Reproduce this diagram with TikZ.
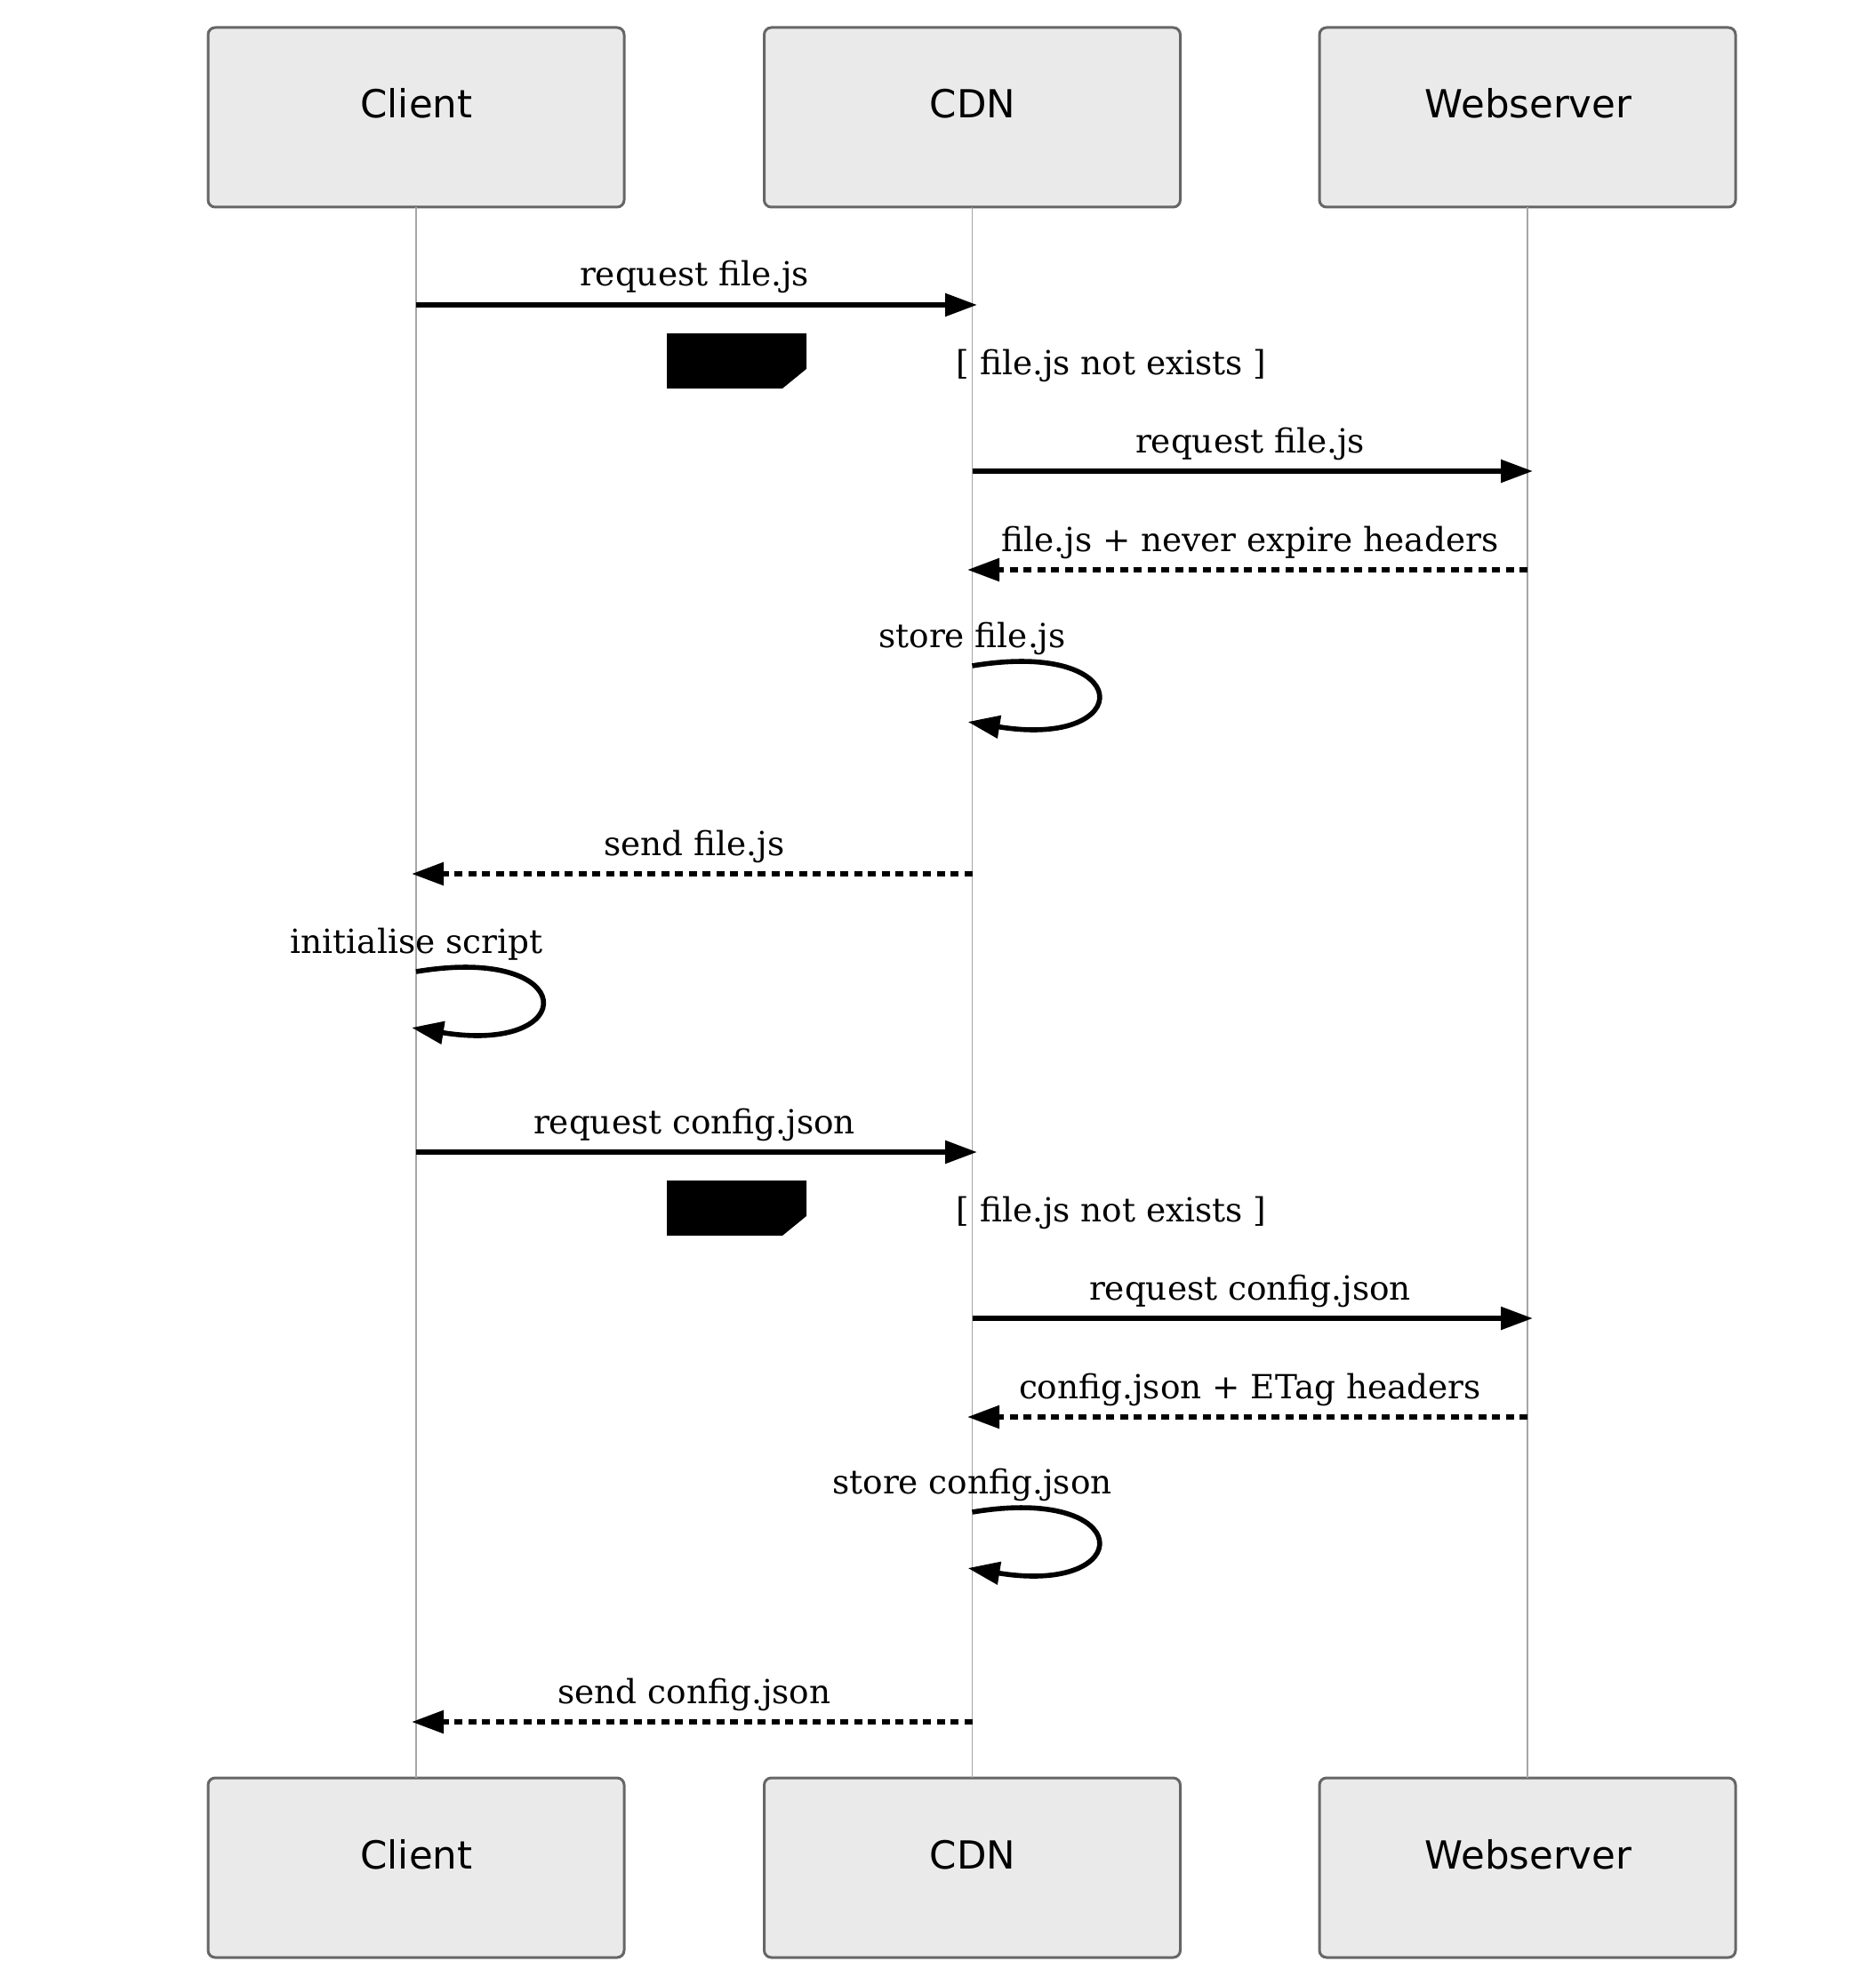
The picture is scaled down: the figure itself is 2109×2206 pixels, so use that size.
\documentclass[tikz,border=0pt]{standalone}
\usepackage{fontspec}
\setmainfont{DejaVu Serif}
\newfontfamily\actorfont{DejaVu Sans}
\usetikzlibrary{arrows.meta}
\definecolor{actfill}{HTML}{EAEAEA}
\definecolor{actline}{HTML}{666666}
\definecolor{lifecol}{HTML}{A6A6A6}
\begin{document}
\begin{tikzpicture}[x=1bp,y=-1bp,
  actor/.style={draw=actline, line width=3bp, fill=actfill, rounded corners=8bp,
    minimum width=468bp, minimum height=202bp, inner sep=0pt, outer sep=0pt},
  actlabel/.style={font=\actorfont\fontsize{43.5bp}{52bp}\selectfont, anchor=base, inner sep=0pt},
  msglabel/.style={font=\fontsize{37.4bp}{44bp}\selectfont, anchor=base, inner sep=0pt},
  msg/.style={line width=5.6bp, -{Triangle[length=36bp,width=25bp]}},
  reply/.style={msg, dash pattern=on 9bp off 6.5bp},
  life/.style={draw=lifecol, line width=1.5bp},
  notetag/.style={fill=black}
]
\useasboundingbox (0,0) rectangle (2109,2206);

% actors
\node[actor] (cTop) at (468,132) {};
\node[actor] (dTop) at (1093.5,132) {};
\node[actor] (wTop) at (1718,132) {};
\node[actor] (cBot) at (468,2101) {};
\node[actor] (dBot) at (1093.5,2101) {};
\node[actor] (wBot) at (1718,2101) {};
\node[actlabel] (cTopL) at (468.5,133) {Client};
\node[actlabel] (dTopL) at (1094,133) {CDN};
\node[actlabel] (wTopL) at (1719,133) {Webserver};
\node[actlabel] (cBotL) at (468.5,2102) {Client};
\node[actlabel] (dBotL) at (1094,2102) {CDN};
\node[actlabel] (wBotL) at (1719,2102) {Webserver};

% lifelines
\draw[life] (cTop.south) -- (cBot.north);
\draw[life] (dTop.south) -- (dBot.north);
\draw[life] (wTop.south) -- (wBot.north);

% ---------- block 1 ----------
\coordinate (a1s) at (468,343);  \coordinate (a1e) at (1099,343);
\draw[msg] (a1s) -- (a1e);
\node[msglabel] (a1l) at (781,322) {request file.js};

\fill[notetag] (750,375) -- (907,375) -- (907,415) -- (880,437) -- (750,437) -- cycle;
\node[msglabel] (n1l) at (1250,421) {[ file.js not exists ]};

\coordinate (a2s) at (1093.5,530); \coordinate (a2e) at (1724,530);
\draw[msg] (a2s) -- (a2e);
\node[msglabel] (a2l) at (1406,509) {request file.js};

\coordinate (a3s) at (1718,641); \coordinate (a3e) at (1088,641);
\draw[reply] (a3s) -- (a3e);
\node[msglabel] (a3l) at (1406,620) {file.js + never expire headers};

\coordinate (s1s) at (1093.5,749); \coordinate (s1e) at (1088.5,812);
\draw[msg] (s1s) .. controls +(186,-31) and +(191,31) .. (s1e);
\node[msglabel] (s1l) at (1093.5,728) {store file.js};

\coordinate (a4s) at (1093.5,983); \coordinate (a4e) at (463,983);
\draw[reply] (a4s) -- (a4e);
\node[msglabel] (a4l) at (781,962) {send file.js};

\coordinate (s2s) at (468,1093); \coordinate (s2e) at (463,1156);
\draw[msg] (s2s) .. controls +(186,-31) and +(191,31) .. (s2e);
\node[msglabel] (s2l) at (468.5,1072) {initialise script};

% ---------- block 2 ----------
\coordinate (b1s) at (468,1296);  \coordinate (b1e) at (1099,1296);
\draw[msg] (b1s) -- (b1e);
\node[msglabel] (b1l) at (781,1275) {request config.json};

\fill[notetag] (750,1328) -- (907,1328) -- (907,1368) -- (880,1390) -- (750,1390) -- cycle;
\node[msglabel] (n2l) at (1250,1374) {[ file.js not exists ]};

\coordinate (b2s) at (1093.5,1483); \coordinate (b2e) at (1724,1483);
\draw[msg] (b2s) -- (b2e);
\node[msglabel] (b2l) at (1406,1462) {request config.json};

\coordinate (b3s) at (1718,1594); \coordinate (b3e) at (1088,1594);
\draw[reply] (b3s) -- (b3e);
\node[msglabel] (b3l) at (1406,1573) {config.json + ETag headers};

\coordinate (s3s) at (1093.5,1701); \coordinate (s3e) at (1088.5,1764);
\draw[msg] (s3s) .. controls +(186,-31) and +(191,31) .. (s3e);
\node[msglabel] (s3l) at (1093.5,1680) {store config.json};

\coordinate (b4s) at (1093.5,1937); \coordinate (b4e) at (463,1937);
\draw[reply] (b4s) -- (b4e);
\node[msglabel] (b4l) at (781,1916) {send config.json};
\end{tikzpicture}
\end{document}
